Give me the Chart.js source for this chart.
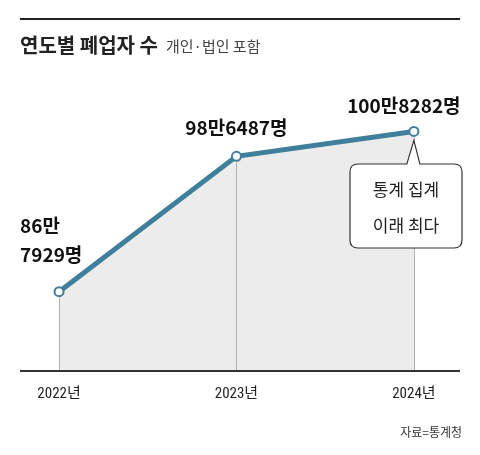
<!DOCTYPE html><html><head><meta charset="utf-8">
<script src="https://cdn.jsdelivr.net/npm/chart.js@4"></script>
<style>body{margin:0;background:#fff;font-family:"Noto Sans CJK KR";}#w{position:relative;width:480px;height:455px}canvas{position:absolute;left:0;top:0}</style></head><body>
<div id="w"><canvas id="c" width="480" height="455"></canvas></div>
<script>
const years=[2022,2023,2024];
const yearLabels=['2022년','2023년','2024년'];
const values=[867929,986487,1008282];
const valueLabels=[['86만','7929명'],['98만6487명'],['100만8282명']];
const callout=['통계 집계','이래 최다'];
const col='#3f7f9b';
const deco={id:'deco',afterDraw(ch){const c=ch.ctx,x=ch.scales.x,y=ch.scales.y,a=ch.chartArea;c.save();
c.fillStyle='#222';c.fillRect(20,18,440,2);
c.font='bold 20px "Noto Sans CJK KR"';c.textBaseline='alphabetic';c.fillText('연도별 폐업자 수',20,53);
let w=c.measureText('연도별 폐업자 수').width;c.font='15px "Noto Sans CJK KR"';c.fillStyle='#444';c.fillText('개인·법인 포함',20+w+8,52);
c.fillStyle='#333';c.fillRect(a.left,a.bottom-1,a.right-a.left,2);
c.font='15px "Roboto Condensed","Liberation Sans Narrow","Noto Sans CJK KR"';c.textAlign='center';c.fillStyle='#222';
years.forEach((v,i)=>c.fillText(yearLabels[i],x.getPixelForValue(v),398));
c.font='bold 19px "Liberation Sans Narrow","Noto Sans CJK KR"';c.fillStyle='#111';
c.textAlign='left';c.fillText(valueLabels[0][0],20,233);c.fillText(valueLabels[0][1],20,262);
c.textAlign='center';c.fillText(valueLabels[1][0],x.getPixelForValue(years[1]),135);
c.fillText(valueLabels[2][0],x.getPixelForValue(years[2])-10,113);
const px=x.getPixelForValue(years[2]),py=y.getPixelForValue(values[2]);
c.strokeStyle='#333';c.lineWidth=1.2;c.fillStyle='#fff';
const bx=350,by=164,bw=112,bh=84,r=8;c.beginPath();
c.moveTo(bx+r,by);c.lineTo(px-7,by);c.lineTo(px,py+9);c.lineTo(px+6,by);c.lineTo(bx+bw-r,by);c.quadraticCurveTo(bx+bw,by,bx+bw,by+r);
c.lineTo(bx+bw,by+bh-r);c.quadraticCurveTo(bx+bw,by+bh,bx+bw-r,by+bh);c.lineTo(bx+r,by+bh);c.quadraticCurveTo(bx,by+bh,bx,by+bh-r);
c.lineTo(bx,by+r);c.quadraticCurveTo(bx,by,bx+r,by);c.closePath();c.fill();c.stroke();
c.fillStyle='#222';c.font='17px "Noto Sans CJK KR"';c.fillText(callout[0],bx+bw/2,196);c.fillText(callout[1],bx+bw/2,232);
c.font='12px "Noto Sans CJK KR"';c.textAlign='right';c.fillStyle='#333';c.fillText('자료=통계청',462,437);
c.restore();},
afterDatasetsDraw(ch){const c=ch.ctx,x=ch.scales.x,y=ch.scales.y,a=ch.chartArea;c.save();c.strokeStyle='#b0b0b0';c.lineWidth=1;
years.forEach((v,i)=>{const px=Math.round(x.getPixelForValue(v))+0.5;c.beginPath();c.moveTo(px,y.getPixelForValue(values[i])+6);c.lineTo(px,a.bottom);c.stroke();});c.restore();}};
new Chart(document.getElementById('c'),{type:'line',data:{datasets:[{data:years.map((v,i)=>({x:v,y:values[i]})),borderColor:col,borderWidth:5,fill:'origin',backgroundColor:'#ececec',pointRadius:4.5,pointBorderWidth:2,pointBackgroundColor:'#fff',pointBorderColor:col,tension:0}]},
options:{responsive:false,animation:false,layout:{padding:{left:20,right:20,top:60,bottom:84}},plugins:{legend:{display:false},tooltip:{enabled:false}},
scales:{x:{type:'linear',display:false,min:2021.78,max:2024.26},y:{display:false,min:798500,max:1070800}}},plugins:[deco]});
</script></body></html>
